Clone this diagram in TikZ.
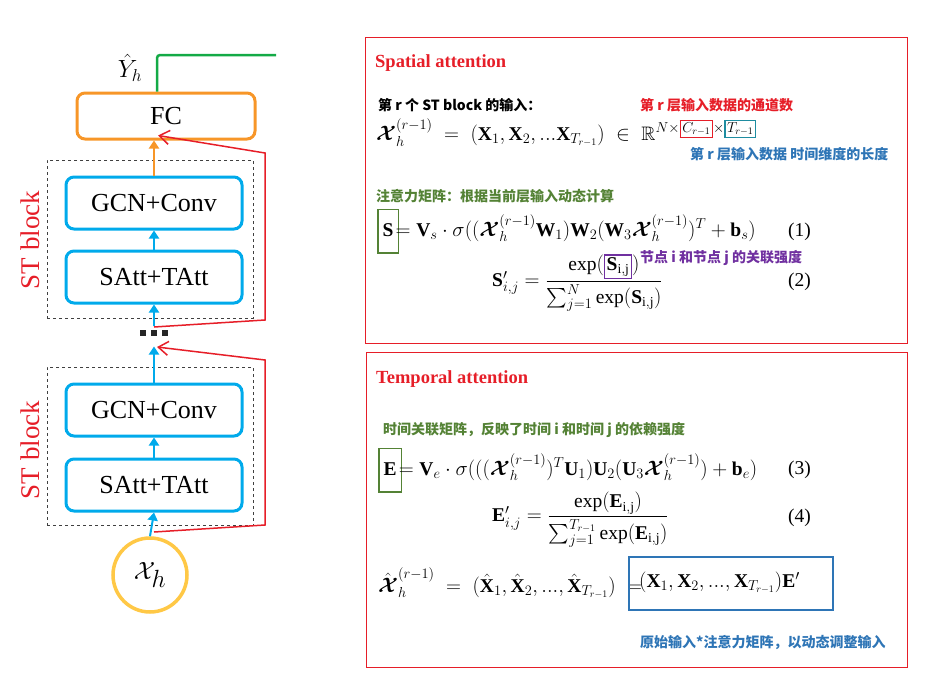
\documentclass[tikz,border=0pt]{standalone}
\usepackage{amsmath,amssymb,bm}
\usepackage{fontspec}
\setmainfont{Liberation Serif}
\newfontfamily\cjk{Noto Sans CJK SC}
\usetikzlibrary{arrows.meta}
\definecolor{rr}{RGB}{230,30,40}
\definecolor{gg}{RGB}{84,130,53}
\definecolor{bt}{RGB}{46,117,182}
\definecolor{pp}{RGB}{112,48,160}
\definecolor{tl}{RGB}{30,140,160}
\definecolor{nb}{RGB}{0,170,235}
\definecolor{orng}{RGB}{247,150,40}
\definecolor{ylw}{RGB}{255,200,70}
\definecolor{gline}{RGB}{20,170,70}
\newcommand{\bx}[2]{{\setlength{\fboxsep}{1.5pt}\setlength{\fboxrule}{1.2pt}\fcolorbox{#1}{white}{#2}}}
\newcommand{\XX}{\bm{\mathcal{X}}}
\begin{document}
\begin{tikzpicture}[x=1pt,y=-1pt,
  blk/.style={draw=nb,line width=3pt,rounded corners=8pt,minimum width=176pt,minimum height=52pt,font=\fontsize{26}{28}\selectfont},
  dbox/.style={draw=black!75,dashed,line width=0.9pt},
  barr/.style={-{Triangle[width=10pt,length=8pt]},nb,line width=2pt},
  rarr/.style={-{Straight Barb[width=14pt,length=10pt]},rr,line width=1.5pt},
  panel/.style={draw=rr,line width=1pt},
  eq/.style={anchor=west,inner sep=0pt,font=\fontsize{19.5}{22}\selectfont},
  cn/.style={anchor=west,inner sep=0pt,font=\cjk\bfseries\fontsize{14}{16}\selectfont},
  ttl/.style={anchor=west,inner sep=0pt,rr,font=\bfseries\fontsize{18.5}{20}\selectfont}]
\useasboundingbox (0,0) rectangle (929,688);
% left network
\node[draw=orng,line width=3pt,rounded corners=8pt,minimum width=178pt,minimum height=46pt,font=\fontsize{26}{28}\selectfont] (fc) at (166,116) {FC};
\node (yh) at (130,68) {\fontsize{23}{25}\selectfont$\hat{Y}_h$};
\coordinate (gtop) at (157,55);
\coordinate (gend) at (276,55);
\draw[gline,line width=2.5pt,rounded corners=3pt] (fc.north -| gtop) -- (gtop) -- (gend);
\node[dbox,minimum width=206pt,minimum height=158pt] (st1) at (150,239) {};
\node[blk] (gc1) at (154,203) {GCN+Conv};
\node[blk] (sa1) at (154,277) {SAtt+TAtt};
\node[dbox,minimum width=206pt,minimum height=158pt] (st2) at (150,446) {};
\node[blk] (gc2) at (154,410) {GCN+Conv};
\node[blk] (sa2) at (154,485) {SAtt+TAtt};
\node[rr,rotate=90,font=\fontsize{27}{29}\selectfont] (l1) at (30,240) {ST block};
\node[rr,rotate=90,font=\fontsize{27}{29}\selectfont] (l2) at (30,450) {ST block};
\node[inner sep=0pt,minimum width=30pt,minimum height=8pt] (dots) at (154,333) {};
\foreach \i in {-11,0,11} \fill[black!85] ([xshift=\i pt]dots.center) ++(-3,-3) rectangle ++(6,6);
\node[draw=ylw,circle,line width=3.5pt,minimum size=74pt,inner sep=0pt] (xh) at (150,575) {\fontsize{40}{42}\selectfont$\mathcal{X}_h$};
\draw[-{Triangle[width=10pt,length=8pt]},orng,line width=2pt] (gc1.north) -- (gc1.north |- fc.south);
\draw[barr] (sa1.north) -- (gc1.south);
\draw[barr] ([yshift=-8pt]st1.south -| sa1) -- (sa1.south);
\draw[barr] (sa2.north) -- (gc2.south);
\draw[barr] (gc2.north) -- ++(0,-36);
\draw[barr] (xh.north) -- (sa2.south);
\coordinate (r1a) at (154,327);
\coordinate (r1b) at (265,320);
\coordinate (r1c) at (265,153);
\coordinate (r2a) at (154,532);
\coordinate (r2b) at (265,525);
\coordinate (r2c) at (265,360);
\coordinate (r2d) at (157,347);
\draw[rarr] (r1a) -- (r1b) -- (r1c) -- ([xshift=-8pt,yshift=5pt]fc.south);
\draw[rarr] (r2a) -- (r2b) -- (r2c) -- (r2d);
% panels
\node[panel,minimum width=542pt,minimum height=306pt] (p1) at (636,190) {};
\node[panel,minimum width=541pt,minimum height=315pt] (p2) at (636.5,509.5) {};
\node[ttl] (t1) at (375,63) {Spatial attention};
\node[cn,black] (c1) at (378,105) {第 r 个 ST block 的输入：};
\node[cn,rr] (c2) at (640,105) {第 r 层输入数据的通道数};
\node[eq] (e0) at (376,133) {$\XX_h^{(r-1)}\;=\;(\mathbf{X}_1,\mathbf{X}_2,...\mathbf{X}_{T_{r-1}})\;\in\;\mathbb{R}^{N\times\bx{rr}{$\scriptstyle C_{r-1}$}\times\bx{tl}{$\scriptstyle T_{r-1}$}}$};
\node[cn,bt] (c3) at (690,154) {第 r 层输入数据 时间维度的长度};
\node[cn,gg] (c4) at (376,196) {注意力矩阵：根据当前层输入动态计算};
\node[eq] (e1) at (377,231) {{\setlength{\fboxsep}{4pt}\setlength{\fboxrule}{1.5pt}\fcolorbox{gg}{white}{$\mathbf{S}$\rule[-12pt]{0pt}{34pt}}}$\!=\mathbf{V}_s\cdot\sigma((\XX_h^{(r-1)}\mathbf{W}_1)\mathbf{W}_2(\mathbf{W}_3\XX_h^{(r-1)})^T+\mathbf{b}_s)$};
\node[eq] (n1) at (788,232) {(1)};
\node[cn,pp] (c5) at (640,258) {节点 i 和节点 j 的关联强度};
\node[eq] (e2) at (492,283) {$\mathbf{S}'_{i,j}=\dfrac{\exp(\bx{pp}{$\mathbf{S}_{\mathrm{i,j}}$})}{\sum_{j=1}^{N}\exp(\mathbf{S}_{\mathrm{i,j}})}$};
\node[eq] (n2) at (788,282) {(2)};
\node[ttl] (t2) at (376,379) {Temporal attention};
\node[cn,gg] (c6) at (383,430) {时间关联矩阵，反映了时间 i 和时间 j 的依赖强度};
\node[eq] (e3) at (378,470) {{\setlength{\fboxsep}{4pt}\setlength{\fboxrule}{1.5pt}\fcolorbox{gg}{white}{$\mathbf{E}$\rule[-12pt]{0pt}{34pt}}}$\!=\mathbf{V}_e\cdot\sigma(((\XX_h^{(r-1)})^T\mathbf{U}_1)\mathbf{U}_2(\mathbf{U}_3\XX_h^{(r-1)})+\mathbf{b}_e)$};
\node[eq] (n3) at (788,470) {(3)};
\node[eq] (e4) at (492,520) {$\mathbf{E}'_{i,j}=\dfrac{\exp(\mathbf{E}_{\mathrm{i,j}})}{\sum_{j=1}^{T_{r-1}}\exp(\mathbf{E}_{\mathrm{i,j}})}$};
\node[eq] (n4) at (788,518) {(4)};
\node[eq] (e5) at (378,583) {$\hat{\XX}_h^{(r-1)}\;=\;(\hat{\mathbf{X}}_1,\hat{\mathbf{X}}_2,...,\hat{\mathbf{X}}_{T_{r-1}})\;=$};
\node[eq] (bb) at (639,583) {$(\mathbf{X}_1,\mathbf{X}_2,...,\mathbf{X}_{T_{r-1}})\mathbf{E}'$};
\draw[bt,line width=1.5pt] (629,557) rectangle (833,610);
\node[cn,bt] (c7) at (640,642) {原始输入*注意力矩阵，以动态调整输入};
\end{tikzpicture}
\end{document}
